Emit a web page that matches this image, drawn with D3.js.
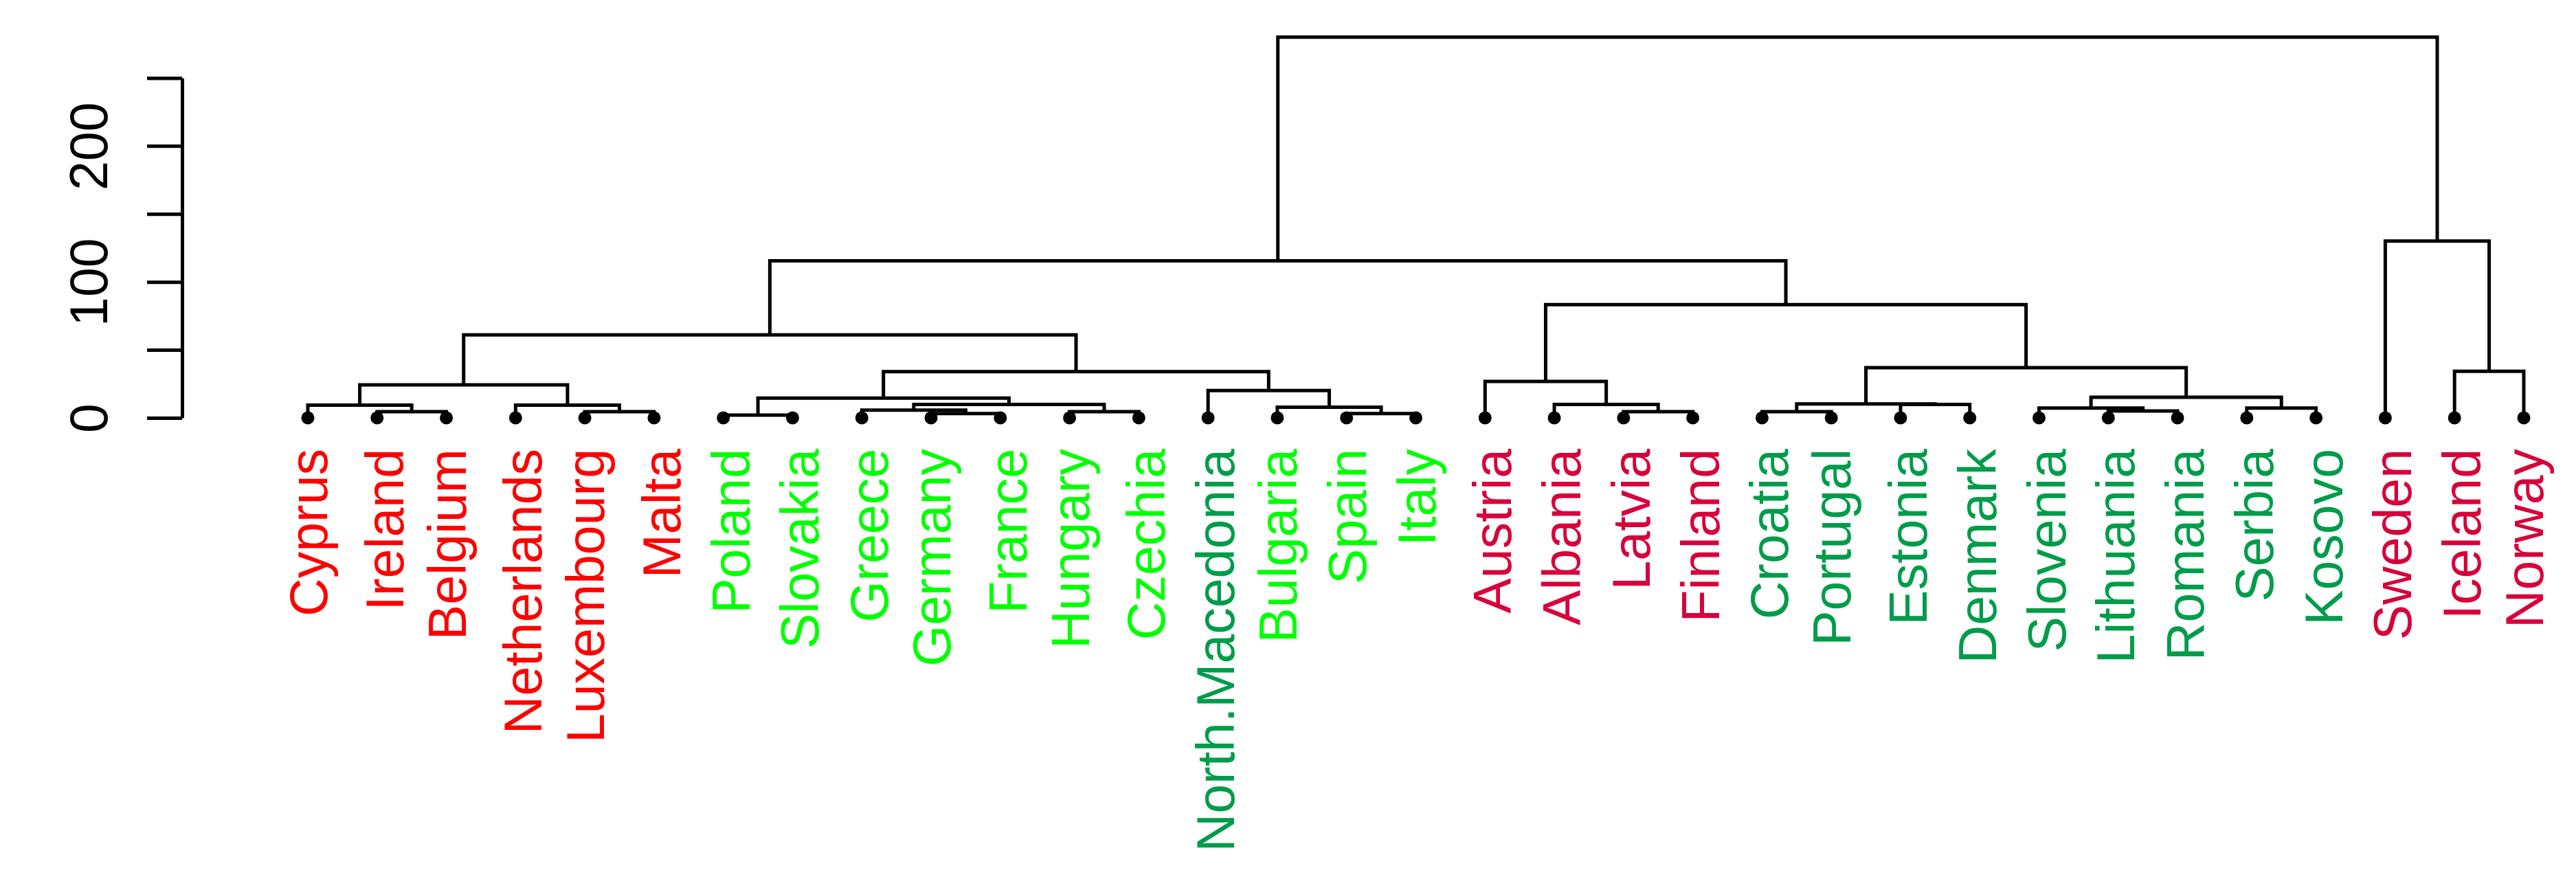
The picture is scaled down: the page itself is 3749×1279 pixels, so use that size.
<!DOCTYPE html>
<html><head><meta charset="utf-8">
<script src="https://cdn.jsdelivr.net/npm/d3@7"></script>
<style>html,body{margin:0;padding:0;background:#fff;} svg{display:block;}</style>
</head><body>
<script>
// Leaf labels in dendrogram order
const labels = ["Cyprus","Ireland","Belgium","Netherlands","Luxembourg","Malta","Poland","Slovakia","Greece","Germany","France","Hungary","Czechia","North.Macedonia","Bulgaria","Spain","Italy","Austria","Albania","Latvia","Finland","Croatia","Portugal","Estonia","Denmark","Slovenia","Lithuania","Romania","Serbia","Kosovo","Sweden","Iceland","Norway"];
// colour group of each leaf label
const labelGroups = [1,1,1,1,1,1, 2,2,2,2,2,2,2, 3, 2,2,2, 4,4,4,4, 3,3,3,3,3,3,3,3,3, 4,4,4];
const groupColors = {1:"#FF0000", 2:"#00FF00", 3:"#009C4A", 4:"#D8003A"};
// hclust-style merges: negative = leaf (1-based), positive = earlier merge step
const mergeLeft   = [-7,-10,-16,-2,-5,-20,-22,-12,-27,-9,-26,-29,-15,-1,-4,-19,10,-24,7,1,11,-14,14,-18,20,-32,19,23,24,28,-31,30];
const mergeRight  = [-8,-11,-17,-3,-6,-21,-23,-13,-28, 2,  9,-30,  3, 4, 5,  6, 8,-25,18,17,12, 13,15, 16,22,-33,21,25,27,29, 26,31];
const mergeHeight = [2.0,3.2,3.2,4.5,4.5,4.5,4.5,4.5,5.0,5.7,7.2,7.2,7.8,9.4,9.4,9.9,9.9,9.9,10.2,14.5,15.2,20.1,24.3,26.8,34.0,34.3,36.9,61.0,83.3,115.5,130.0,280.0];
// y axis ticks
const yTicks = [0,50,100,150,200,250];
const yTickLabels = ["0","","100","","200",""];

const W = 3749, H = 1279;
const svg = d3.select("body").append("svg").attr("width", W).attr("height", H);

const x = d3.scalePoint().domain(labels).range([448, 3673]);
const y = d3.scaleLinear().domain([0, 250]).range([608, 113.4]);

// compute node positions
const nodeX = [], nodeH = [];
function childPos(c) {
  if (c < 0) return {x: x(labels[-c - 1]), h: 0};
  return {x: nodeX[c - 1], h: nodeH[c - 1]};
}
const segs = [];
for (let i = 0; i < mergeHeight.length; i++) {
  const a = childPos(mergeLeft[i]), b = childPos(mergeRight[i]);
  const l = a.x <= b.x ? a : b, r = a.x <= b.x ? b : a;
  nodeX.push((l.x + r.x) / 2);
  nodeH.push(mergeHeight[i]);
  segs.push({l, r, h: mergeHeight[i]});
}

const g = svg.append("g");
g.selectAll("path.branch").data(segs).join("path")
  .attr("class", "branch")
  .attr("d", d => `M${d.l.x},${y(d.l.h)}V${y(d.h)}H${d.r.x}V${y(d.r.h)}`)
  .attr("fill", "none").attr("stroke", "#000").attr("stroke-width", 5)
  .attr("stroke-linejoin", "miter");

// leaf points
g.selectAll("circle.leaf").data(labels).join("circle")
  .attr("class", "leaf")
  .attr("cx", d => x(d)).attr("cy", y(0)).attr("r", 9.5).attr("fill", "#000");

// leaf labels
g.selectAll("text.lab").data(labels).join("text")
  .attr("class", "lab")
  .attr("transform", (d) => `translate(${x(d) + (/[gjpqy]/.test(d) ? 28 : 38)},653) rotate(-90)`)
  .attr("text-anchor", "end")
  .attr("font-family", "'Liberation Sans', Arial, sans-serif")
  .attr("font-size", 77)
  .attr("fill", (d, i) => groupColors[labelGroups[i]])
  .text(d => d);

// y axis
const axisX = 265;
const ax = svg.append("g").attr("transform", `translate(${axisX},0)`)
  .call(d3.axisLeft(y).tickValues(yTicks).tickSize(51).tickSizeOuter(0)
    .tickFormat((d, i) => yTickLabels[i]));
ax.select(".domain").attr("stroke", "#000").attr("stroke-width", 5);
ax.selectAll(".tick line").attr("stroke", "#000").attr("stroke-width", 5);
ax.selectAll(".tick text")
  .attr("x", null).attr("dy", null).attr("y", null)
  .attr("transform", `translate(${156 - axisX},0) rotate(-90)`)
  .attr("text-anchor", "middle")
  .attr("font-family", "'Liberation Sans', Arial, sans-serif")
  .attr("font-size", 77)
  .attr("fill", "#000");
</script>
</body></html>
